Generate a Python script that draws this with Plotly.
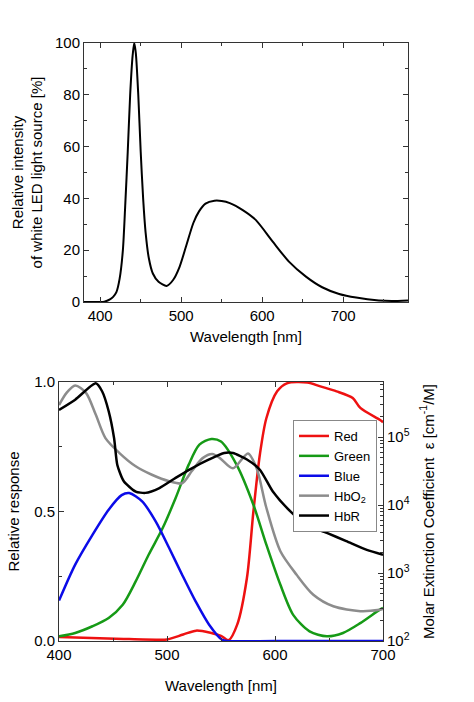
import plotly.graph_objects as go

# ---- Top panel: white LED spectrum ----
led_nm = [380, 400, 405, 412, 416, 420, 424, 428, 431, 434, 437, 440, 442, 444, 447, 450, 453, 456, 460,
          465, 472, 482, 490, 498, 506, 515, 522, 530, 541, 550, 560, 576, 592, 613, 633, 654, 674, 695,
          716, 744, 760, 780]
led_int = [0, 0, 0.1, 1.0, 2.0, 3.8, 9, 20, 38, 58, 80, 95, 100, 96, 80, 58, 40, 27, 17,
           11, 7.8, 6.2, 8.5, 13.6, 21.5, 30.5, 35, 38, 39.1, 39, 38.2, 35.5, 31.7, 23.3, 15.6, 9.8, 5.7, 3.1,
           1.7, 0.6, 0.4, 0.6]

# ---- Bottom panel: camera responses ----
red_nm = [400, 430, 460, 490, 500, 515, 527, 541, 550, 557, 565, 574, 580, 586, 592, 602, 611, 630,
          642, 657, 672, 679, 697, 700]
red_val = [0.015, 0.012, 0.008, 0.005, 0.006, 0.025, 0.04, 0.031, 0.02, 0.003, 0.063, 0.243, 0.5,
           0.72, 0.86, 0.964, 0.995, 0.998, 0.983, 0.964, 0.938, 0.9, 0.854, 0.845]

green_nm = [400, 415, 431, 446, 459, 471, 483, 496, 508, 520, 530, 541, 550, 564.5, 580, 592, 605,
            617, 632, 648, 663, 679, 697, 700]
green_val = [0.018, 0.031, 0.057, 0.089, 0.14, 0.23, 0.333, 0.436, 0.552, 0.68, 0.758, 0.78, 0.77,
             0.68, 0.526, 0.372, 0.217, 0.10, 0.037, 0.018, 0.031, 0.069, 0.121, 0.128]

blue_nm = [400, 415, 431, 446, 458, 465, 477, 489.5, 502, 514, 526.5, 539, 551, 556, 600, 650, 700]
blue_val = [0.156, 0.295, 0.41, 0.507, 0.563, 0.571, 0.539, 0.462, 0.359, 0.256, 0.153, 0.063,
            0.005, 0.0, 0.0, 0.0, 0.0]

# ---- Molar extinction coefficients [cm^-1/M] ----
hbo2_nm = [400, 407, 415, 425, 434, 443, 456, 471, 486, 502, 514, 523, 533, 542, 549, 561, 575,
           583, 592, 605, 620, 635.5, 654, 679, 697, 700]
hbo2_val = [295000, 447000, 575000, 447000, 214000, 96600, 58200, 37200, 27900, 22400, 20900,
            31600, 49000, 56200, 49000, 34700, 57500, 34700, 9120, 2090, 944, 479, 324, 275, 288, 295]

hbr_nm = [400, 415, 434, 440, 446, 451, 454, 460, 471, 480, 493, 508, 523, 539, 553, 561, 574,
          586, 598, 614, 629, 648, 666, 685, 700]
hbr_val = [251000, 355000, 617000, 468000, 240000, 96600, 38900, 22400, 15800, 15100, 17800, 25100,
           34700, 46800, 58200, 58200, 46800, 33100, 15800, 8130, 5130, 3890, 2950, 2190, 1860]

led_ticks = [400, 500, 600, 700]
resp_ticks = [400, 500, 600, 700]
decades = [1e2, 1e3, 1e4, 1e5]
decade_labels = ["10<sup>2</sup>", "10<sup>3</sup>", "10<sup>4</sup>", "10<sup>5</sup>"]

W, H = 474, 702
FONT = "Liberation Sans, Arial, sans-serif"
AX = "#333333"

fig = go.Figure()
fig.add_trace(go.Scatter(x=led_nm, y=led_int, mode="lines", line=dict(color="black", width=2, shape="spline", smoothing=0.7),
                         showlegend=False, xaxis="x", yaxis="y"))

fig.add_trace(go.Scatter(x=red_nm, y=red_val, name="Red", mode="lines",
                         line=dict(color="#ee1111", width=2.5, shape="spline", smoothing=0.8), xaxis="x2", yaxis="y2"))
fig.add_trace(go.Scatter(x=green_nm, y=green_val, name="Green", mode="lines",
                         line=dict(color="#169a16", width=2.5, shape="spline", smoothing=0.8), xaxis="x2", yaxis="y2"))
fig.add_trace(go.Scatter(x=blue_nm, y=blue_val, name="Blue", mode="lines",
                         line=dict(color="#0b0be8", width=2.5, shape="spline", smoothing=0.8), xaxis="x2", yaxis="y2"))
fig.add_trace(go.Scatter(x=hbo2_nm, y=hbo2_val, name="HbO<sub>2</sub>", mode="lines",
                         line=dict(color="#8c8c8c", width=2.5, shape="spline", smoothing=0.8), xaxis="x2", yaxis="y3"))
fig.add_trace(go.Scatter(x=hbr_nm, y=hbr_val, name="HbR", mode="lines",
                         line=dict(color="black", width=2.5, shape="spline", smoothing=0.6), xaxis="x2", yaxis="y3"))

common = dict(showgrid=False, zeroline=False, showline=True, linecolor=AX, linewidth=1, automargin=False,
              ticks="inside", ticklen=5, tickcolor=AX, tickfont=dict(size=15, color="black", family=FONT))

log_minor = [m * d for d in [1e2, 1e3, 1e4, 1e5] for m in range(2, 10)]

fig.update_layout(
    template="none",
    width=W, height=H, margin=dict(l=0, r=0, t=0, b=0, autoexpand=False),
    paper_bgcolor="white", plot_bgcolor="white",
    font=dict(family=FONT, size=15, color="black"),
    xaxis=dict(domain=[84 / W, 408 / W], range=[380, 780], tickvals=led_ticks, anchor="y", mirror="ticks",
               minor=dict(tickvals=[450, 550, 650, 750], ticks="inside", ticklen=3, tickcolor=AX),
               title=dict(text="Wavelength [nm]", font=dict(size=15), standoff=8), **common),
    yaxis=dict(domain=[(H - 302) / H, (H - 43) / H], range=[0, 100], tickvals=[0, 20, 40, 60, 80, 100],
               anchor="x", mirror="ticks",
               minor=dict(tickvals=[10, 30, 50, 70, 90], ticks="inside", ticklen=3, tickcolor=AX),
               title=dict(text="Relative intensity<br>of white LED light source [%]", font=dict(size=15), standoff=8),
               **common),
    xaxis2=dict(domain=[59 / W, 383 / W], range=[400, 700], tickvals=resp_ticks, anchor="y2", mirror="ticks",
                minor=dict(tickvals=[450, 550, 650], ticks="inside", ticklen=3, tickcolor=AX),
                title=dict(text="Wavelength [nm]", font=dict(size=15), standoff=18), **common),
    yaxis2=dict(domain=[(H - 641) / H, (H - 382) / H], range=[0, 1], tickvals=[0, 0.5, 1],
                ticktext=["0.0", "0.5", "1.0"], anchor="x2",
                minor=dict(tickvals=[0.25, 0.75], ticks="inside", ticklen=3, tickcolor=AX),
                title=dict(text="Relative response", font=dict(size=15), standoff=10), **common),
    yaxis3=dict(overlaying="y2", side="right", anchor="x2", type="log", range=[2, 5.81],
                tickvals=decades, ticktext=decade_labels,
                minor=dict(tickvals=log_minor, ticks="inside", ticklen=3, tickcolor=AX),
                title=dict(text="Molar Extinction Coefficient  ε [cm<sup>-1</sup>/M]", font=dict(size=15), standoff=14),
                **common),
    legend=dict(x=293 / W, y=(H - 420) / H, xanchor="left", yanchor="top", bgcolor="white",
                bordercolor="#888888", borderwidth=1, font=dict(size=13, family=FONT),
                tracegroupgap=0, itemwidth=30),
)

fig.write_html("out.html")
